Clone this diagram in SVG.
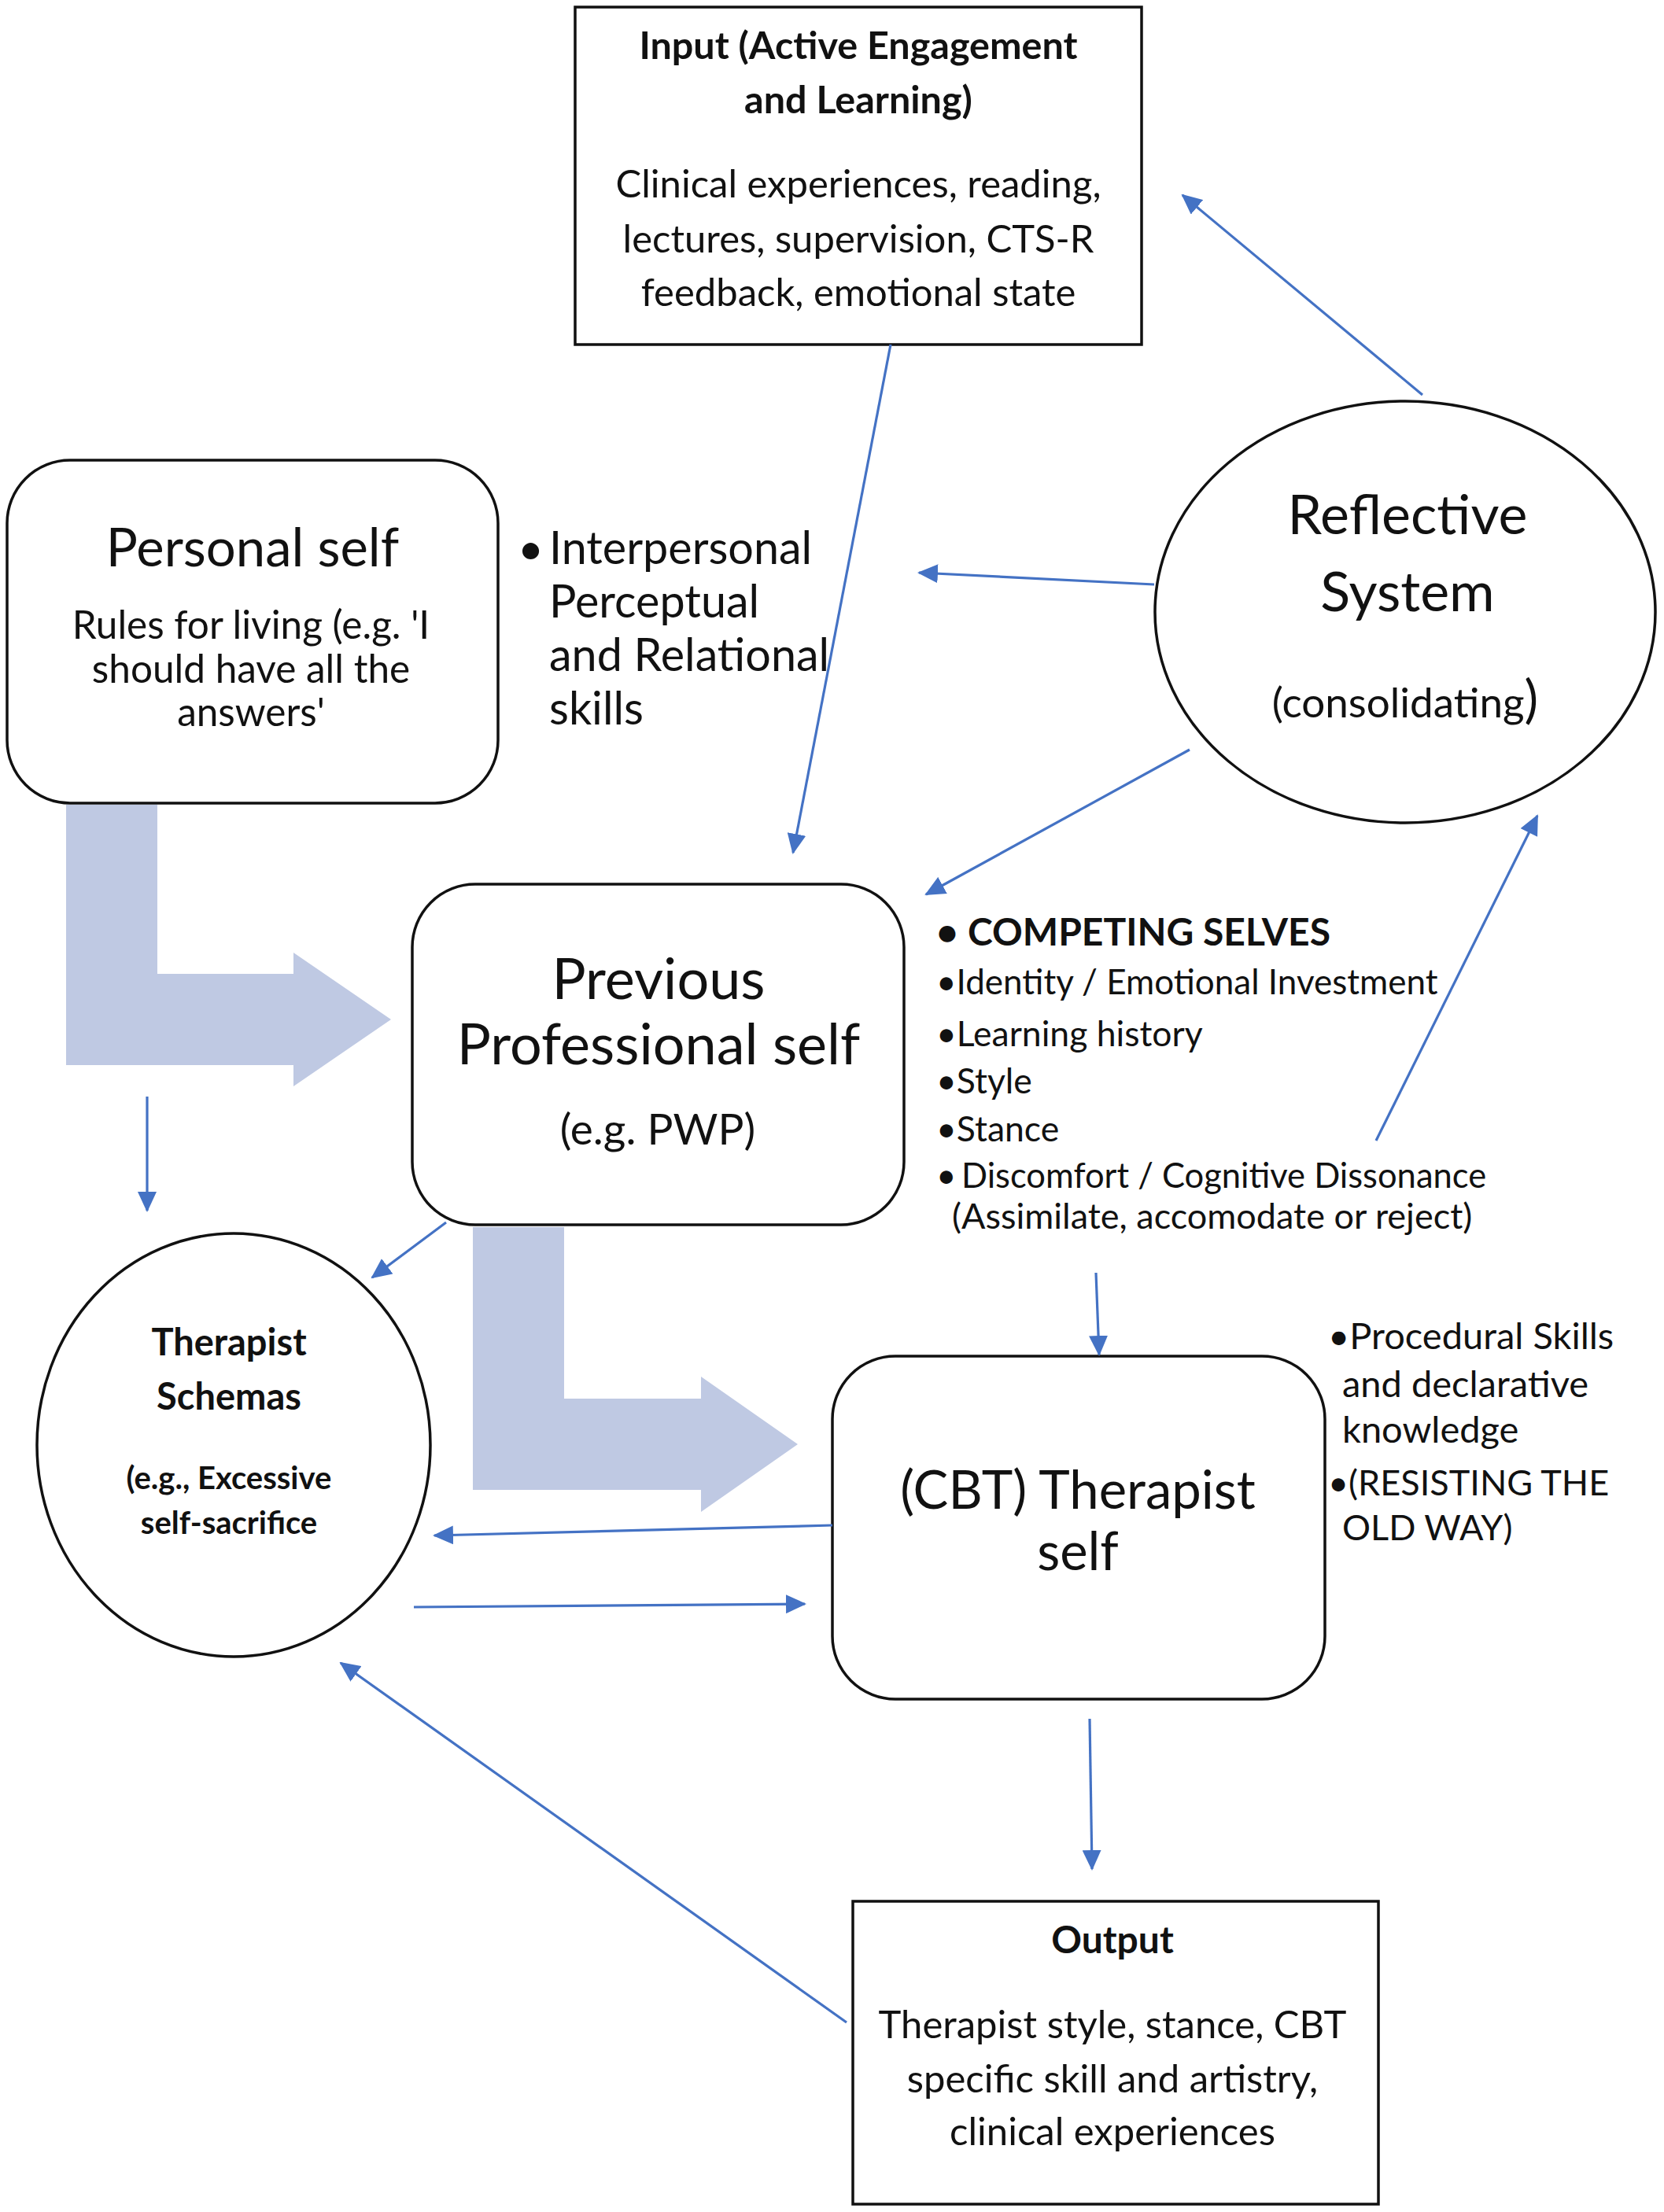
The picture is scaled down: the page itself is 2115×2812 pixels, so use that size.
<svg xmlns="http://www.w3.org/2000/svg" width="2115" height="2812" viewBox="0 0 2115 2812">
<style>
  text { font-family: Lato, "Liberation Sans", sans-serif; fill: #111; }
  .c { text-anchor: middle; }
  .b { font-weight: bold; }
  .box { fill: #fff; stroke: #111; stroke-width: 3.5; }
  .big { fill: #BFC9E3; stroke: none; }
  .con { stroke: #4472C4; stroke-width: 3.2; fill: none; marker-end: url(#ah); }
</style>
<defs>
  <marker id="ah" viewBox="0 0 26 24" refX="24" refY="12" markerWidth="26" markerHeight="24" markerUnits="userSpaceOnUse" orient="auto">
    <path d="M0,0 L26,12 L0,24 Z" fill="#4472C4"/>
  </marker>
</defs>
<rect width="2115" height="2812" fill="#fff"/>

<g id="big-arrows">
  <path class="big" d="M84,1023 H200 V1238 H373 V1211 L497,1296 L373,1381 V1354 H84 Z"/>
  <path class="big" d="M601,1560 H717 V1778 H891 V1750 L1014,1836 L891,1922 V1894 H601 Z"/>
</g>

<g id="input">
  <rect class="box" x="731" y="9" width="720" height="429"/>
  <text class="c b" x="1091" y="75" font-size="48.5">Input (Active Engagement</text>
  <text class="c b" x="1091" y="144" font-size="48.5">and Learning)</text>
  <text class="c" x="1091" y="251" font-size="49">Clinical experiences, reading,</text>
  <text class="c" x="1091" y="321" font-size="49">lectures, supervision, CTS-R</text>
  <text class="c" x="1091" y="389" font-size="49">feedback, emotional state</text>
</g>

<g id="personal-self">
  <rect class="box" x="9" y="585" width="624" height="436" rx="80" ry="80"/>
  <text class="c" x="321" y="720" font-size="67">Personal self</text>
  <text class="c" x="319" y="812" font-size="49.5">Rules for living (e.g. 'I</text>
  <text class="c" x="319" y="868" font-size="49.5">should have all the</text>
  <text class="c" x="319" y="923" font-size="49.5">answers'</text>
</g>

<g id="interpersonal-skills">
  <text x="658" y="717" font-size="57">•</text>
  <text x="698" y="717" font-size="57.5">Interpersonal</text>
  <text x="698" y="785" font-size="57.5">Perceptual</text>
  <text x="698" y="853" font-size="57.5">and Relational</text>
  <text x="698" y="921" font-size="57.5">skills</text>
</g>

<g id="reflective-system">
  <ellipse class="box" cx="1786" cy="778" rx="318" ry="268"/>
  <text class="c" x="1789" y="679" font-size="70">Reflective</text>
  <text class="c" x="1789" y="777" font-size="70">System</text>
  <text class="c" x="1786" y="912" font-size="53">(consolidating<tspan font-size="66">)</tspan></text>
</g>

<g id="previous-professional-self">
  <rect class="box" x="524" y="1124" width="625" height="433" rx="80" ry="80"/>
  <text class="c" x="837" y="1270" font-size="72">Previous</text>
  <text class="c" x="837" y="1353" font-size="72">Professional self</text>
  <text class="c" x="836" y="1455" font-size="55">(e.g. PWP)</text>
</g>

<g id="competing-selves">
  <text x="1190" y="1202" font-size="48" class="b">•</text>
  <text x="1230" y="1202" font-size="48" class="b">COMPETING SELVES</text>
  <text x="1190" y="1264" font-size="44">•Identity / Emotional Investment</text>
  <text x="1190" y="1330" font-size="44.5">•Learning history</text>
  <text x="1190" y="1390" font-size="44.5">•Style</text>
  <text x="1190" y="1451" font-size="44.5">•Stance</text>
  <text x="1190" y="1510" font-size="44">•</text>
  <text x="1222" y="1510" font-size="43.5">Discomfort / Cognitive Dissonance</text>
  <text x="1210" y="1562" font-size="45">(Assimilate, accomodate or reject)</text>
</g>

<g id="therapist-schemas">
  <ellipse class="box" cx="297" cy="1837" rx="250" ry="269"/>
  <text class="c b" x="291" y="1723" font-size="47">Therapist</text>
  <text class="c b" x="291" y="1792" font-size="47">Schemas</text>
  <text class="c b" x="291" y="1893" font-size="40">(e.g., Excessive</text>
  <text class="c b" x="291" y="1950" font-size="40">self-sacrifice</text>
</g>

<g id="cbt-therapist-self">
  <rect class="box" x="1058" y="1724" width="626" height="436" rx="80" ry="80"/>
  <text class="c" x="1370" y="1918" font-size="67">(CBT) Therapist</text>
  <text class="c" x="1370" y="1996" font-size="67">self</text>
</g>

<g id="procedural-skills">
  <text x="1688" y="1715" font-size="47">•Procedural Skills</text>
  <text x="1706" y="1776" font-size="47">and declarative</text>
  <text x="1706" y="1834" font-size="47">knowledge</text>
  <text x="1688" y="1901" font-size="45">•(RESISTING THE</text>
  <text x="1706" y="1958" font-size="45">OLD WAY)</text>
</g>

<g id="output">
  <rect class="box" x="1084" y="2417" width="668" height="385"/>
  <text class="c b" x="1414" y="2483" font-size="48">Output</text>
  <text class="c" x="1414" y="2591" font-size="49">Therapist style, stance, CBT</text>
  <text class="c" x="1414" y="2660" font-size="49">specific skill and artistry,</text>
  <text class="c" x="1414" y="2727" font-size="49">clinical experiences</text>
</g>

<g id="connectors">
  <line class="con" x1="1808" y1="502" x2="1503" y2="248"/>
  <line class="con" x1="1132" y1="438" x2="1008" y2="1084"/>
  <line class="con" x1="1467" y1="743" x2="1168" y2="728"/>
  <line class="con" x1="1512" y1="953" x2="1177" y2="1137"/>
  <line class="con" x1="1749" y1="1450" x2="1954" y2="1037"/>
  <line class="con" x1="187" y1="1394" x2="187" y2="1539"/>
  <line class="con" x1="567" y1="1554" x2="473" y2="1624"/>
  <line class="con" x1="1393" y1="1618" x2="1397" y2="1722"/>
  <line class="con" x1="1058" y1="1939" x2="552" y2="1952"/>
  <line class="con" x1="526" y1="2043" x2="1023" y2="2039"/>
  <line class="con" x1="1385" y1="2185" x2="1388" y2="2376"/>
  <line class="con" x1="1076" y1="2571" x2="433" y2="2114"/>
</g>
</svg>
